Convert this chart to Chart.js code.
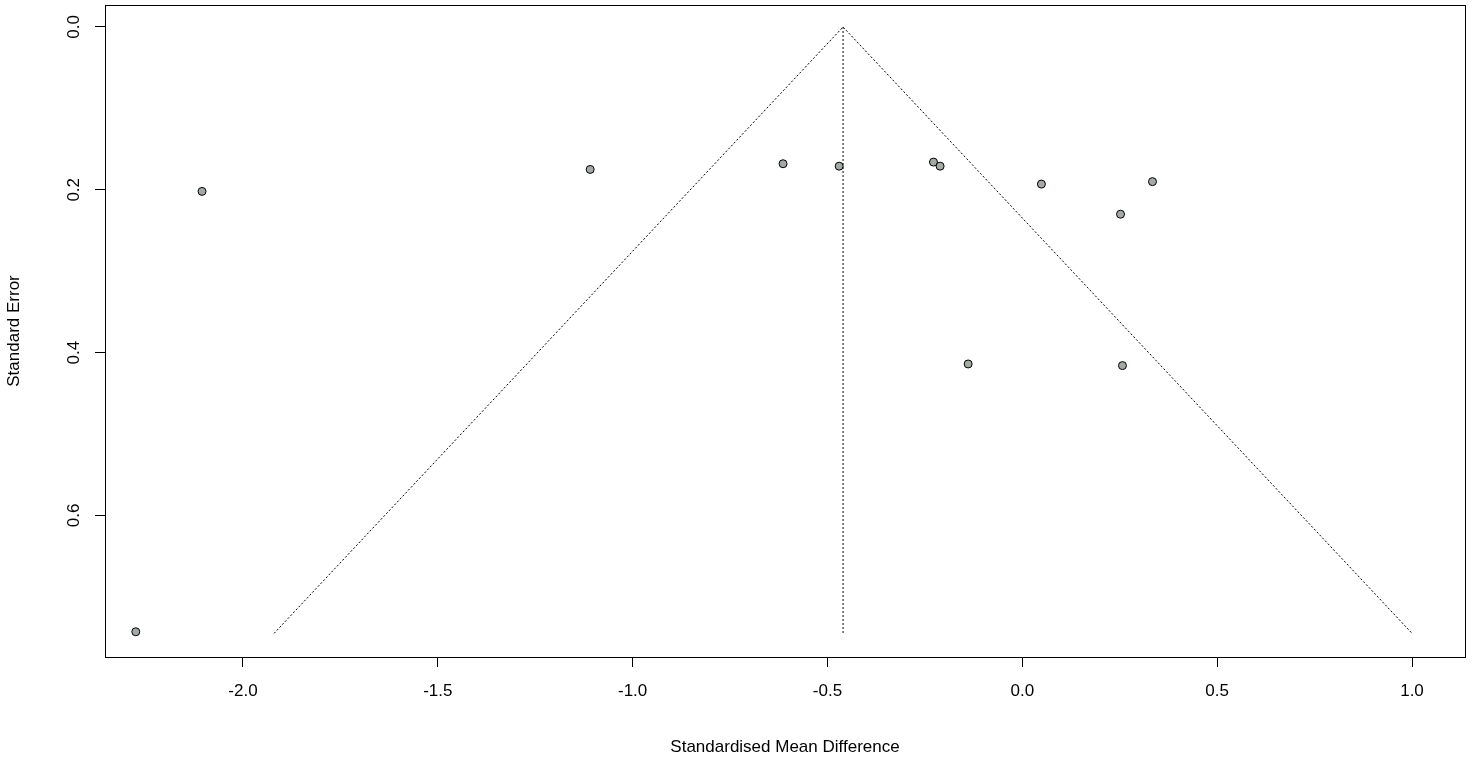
<!DOCTYPE html>
<html><head><meta charset="utf-8">
<script src="https://cdn.jsdelivr.net/npm/chart.js@4"></script>
<style>html,body{margin:0;padding:0;background:#fff}#w{width:1480px;height:762px}</style>
</head><body><div id="w"><canvas id="c"></canvas></div>
<script>
const smd = [-2.275,-2.105,-1.109,-0.614,-0.470,-0.228,-0.211,0.049,0.252,0.334,-0.139,0.257];
const se  = [0.743,0.202,0.175,0.168,0.171,0.166,0.171,0.193,0.230,0.190,0.414,0.416];
const pooled = -0.46;
const maxSE = 0.745;
const xTicks = [-2.0,-1.5,-1.0,-0.5,0.0,0.5,1.0];
const yTicks = [0.0,0.2,0.4,0.6];

const pts = smd.map((v,i)=>({x:v,y:se[i]}));
const funnel = [{x:pooled-1.96*maxSE,y:maxSE},{x:pooled,y:0},{x:pooled+1.96*maxSE,y:maxSE}];
const vline = [{x:pooled,y:0},{x:pooled,y:maxSE}];
const font = {family:'"Liberation Sans", Arial, sans-serif', size:17};

const box = {id:'box', afterDraw(ch){
  const a=ch.chartArea,c=ch.ctx;c.save();c.strokeStyle='#000';c.lineWidth=1;
  c.strokeRect(a.left+0.5,a.top+0.5,a.right-a.left,a.bottom-a.top);
  const ys=ch.scales.y;c.fillStyle='#000';c.font='17px "Liberation Sans", Arial, sans-serif';
  c.textAlign='center';c.textBaseline='middle';
  yTicks.forEach(v=>{const p=ys.getPixelForValue(v);c.save();c.translate(74,p);c.rotate(-Math.PI/2);c.fillText(v.toFixed(1),0,0);c.restore();});
  c.restore();}};

new Chart(document.getElementById('c'),{
  type:'scatter',
  data:{datasets:[
    {data:pts,pointRadius:4,pointBackgroundColor:'#a3aaa3',pointBorderColor:'#000',pointBorderWidth:1,showLine:false},
    {data:funnel,showLine:true,borderColor:'#000',borderWidth:1,borderDash:[2,2],pointRadius:0},
    {data:vline,showLine:true,borderColor:'#000',borderWidth:1,borderDash:[2,2],pointRadius:0}
  ]},
  options:{
    responsive:true,maintainAspectRatio:false,animation:false,
    layout:{padding:{top:5,right:15,bottom:0,left:0}},
    plugins:{legend:{display:false},tooltip:{enabled:false}},
    scales:{
      x:{type:'linear',min:-2.354,max:1.136,
        afterBuildTicks:s=>{s.ticks=xTicks.map(v=>({value:v}));},
        afterFit:s=>{s.height=105;},
        grid:{drawOnChartArea:false,tickLength:10,color:'#000'},border:{display:false},
        ticks:{color:'#000',font:font,padding:14,callback:v=>v.toFixed(1),maxRotation:0},
        title:{display:true,text:'Standardised Mean Difference',color:'#000',font:font,padding:{top:24}}},
      y:{type:'linear',reverse:true,min:-0.027,max:0.774,
        afterBuildTicks:s=>{s.ticks=yTicks.map(v=>({value:v}));},
        afterFit:s=>{s.width=105;},
        grid:{drawOnChartArea:false,tickLength:10,color:'#000'},border:{display:false},
        ticks:{display:false},
        title:{display:true,text:'Standard Error',color:'#000',font:font,padding:{bottom:30}}}
    }
  },
  plugins:[box]
});
</script></body></html>
